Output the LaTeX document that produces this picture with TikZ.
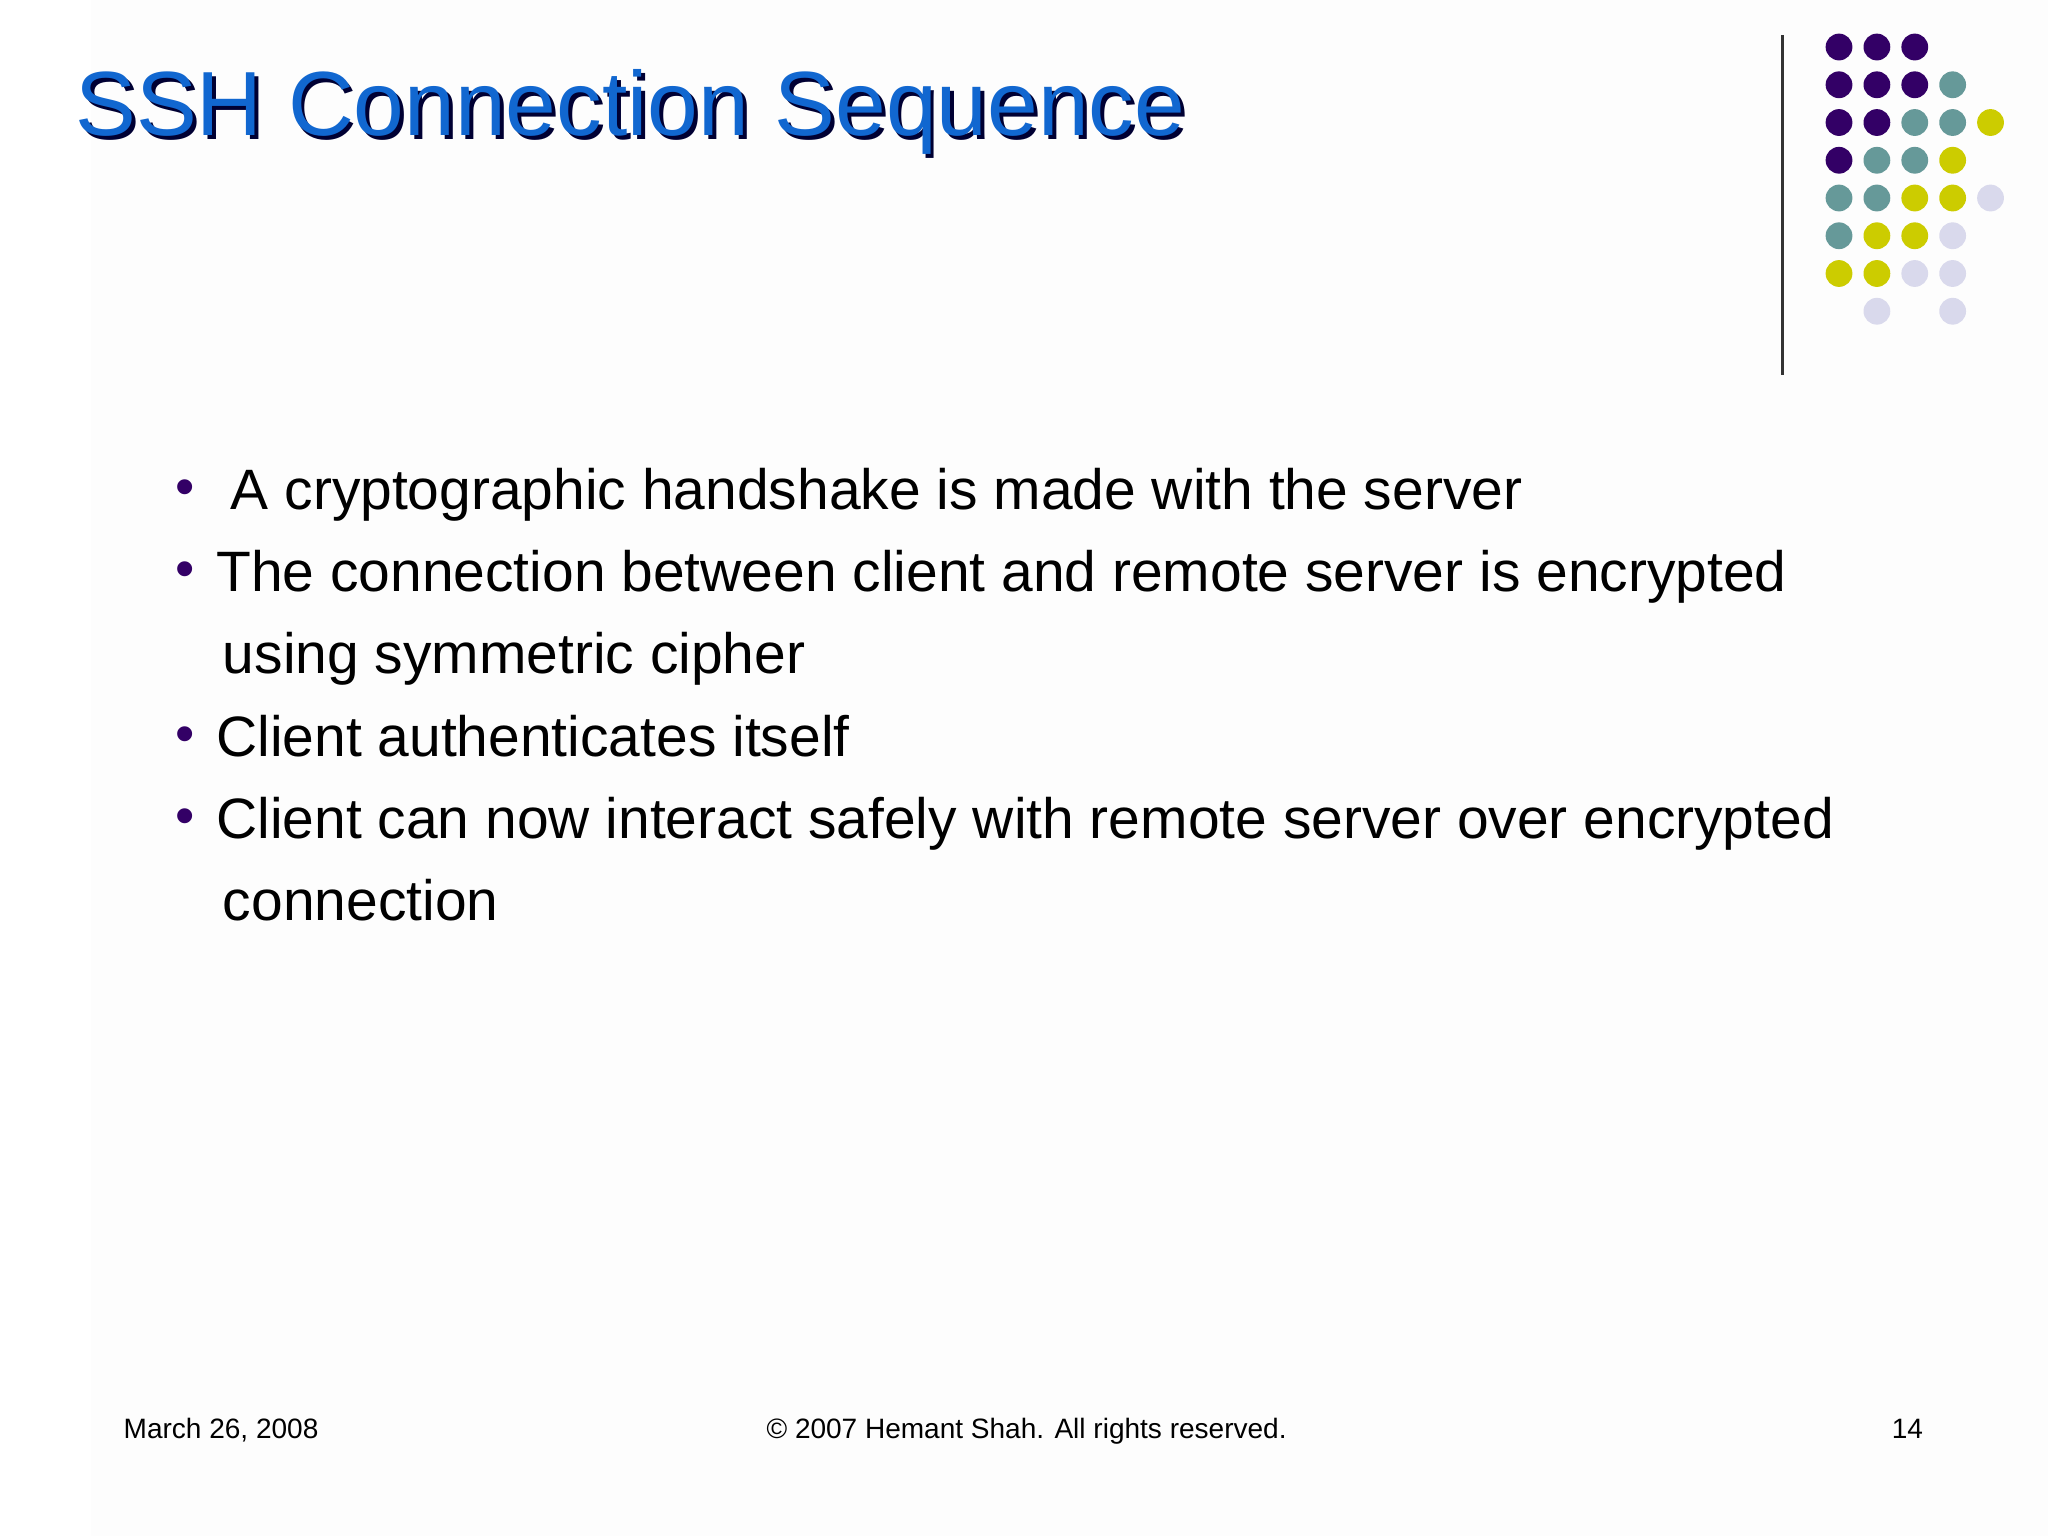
\documentclass[tikz,border=0pt]{standalone}
\usepackage{fontspec}
\setmainfont{Liberation Sans}
\definecolor{dP}{HTML}{330066}
\definecolor{dT}{HTML}{669999}
\definecolor{dY}{HTML}{CCCC00}
\definecolor{dL}{HTML}{D9D9EC}
\definecolor{ttl}{HTML}{1167D0}
\begin{document}
\begin{tikzpicture}[x=0.01cm,y=-0.01cm,
  btxt/.style={anchor=base west,inner sep=0,font=\fontsize{12.4}{14}\selectfont},
  bul/.style={anchor=base west,inner sep=0,text=dP,font=\fontsize{12}{14}\selectfont},
  foot/.style={inner sep=0,font=\fontsize{6.1}{7}\selectfont},
  dot/.style={circle,inner sep=0,minimum size=0.205cm}]
\fill[white] (0,0) rectangle (1568,1176);
\fill[black!0.6] (70,0) rectangle (1568,1176);
\useasboundingbox (0,0) rectangle (1568,1176);
% title
\node[anchor=base west,inner sep=0,font=\fontsize{19.85}{22}\selectfont,text=black!80!blue] (ts) at (60,107) {SSH Connection Sequence};
\node[anchor=base west,inner sep=0,font=\fontsize{19.85}{22}\selectfont,text=ttl] (t) at (57,104) {SSH Connection Sequence};
% divider
\draw[black!80,line width=0.6pt] (1365,27) -- (1365,287);
% dots
\foreach \r/\lst in {0/{P,P,P,N,N},1/{P,P,P,T,N},2/{P,P,T,T,Y},3/{P,T,T,Y,N},4/{T,T,Y,Y,L},5/{T,Y,Y,L,N},6/{Y,Y,L,L,N},7/{N,L,N,L,N}}{
  \foreach \c [count=\i from 0] in \lst {
    \if\c N\else
      \node[dot,fill=d\c] (d\r\i) at ({1408+29*\i},{36+28.9*\r}) {};
    \fi
  }
}
% bullets
\node[bul] (b1) at (134,387) {•};
\node[btxt] (l1) at (176,390) {A cryptographic handshake is made with the server};
\node[bul] (b2) at (134,450) {•};
\node[btxt] (l2) at (165,453) {The connection between client and remote server is encrypted};
\node[btxt] (l3) at (170,516) {using symmetric cipher};
\node[bul] (b3) at (134,576) {•};
\node[btxt] (l4) at (165,579) {Client authenticates itself};
\node[bul] (b4) at (134,639) {•};
\node[btxt] (l5) at (165,642) {Client can now interact safely with remote server over encrypted};
\node[btxt] (l6) at (170,705) {connection};
% footer
\node[foot,anchor=base west] (f1) at (94,1101) {March 26, 2008};
\node[foot,anchor=base] (f2) at (786,1101) {© 2007 Hemant Shah. All rights reserved.};
\node[foot,anchor=base east] (f3) at (1473,1101) {14};
\end{tikzpicture}
\end{document}
